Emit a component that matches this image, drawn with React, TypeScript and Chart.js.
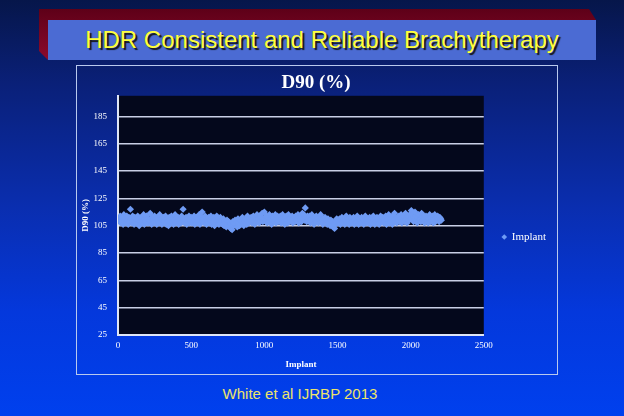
import React, { useEffect, useRef } from "react";
import { Chart, registerables } from "chart.js";

Chart.register(...registerables);

const slideTitle = "HDR Consistent and Reliable Brachytherapy";
const chartTitle = "D90 (%)";
const seriesName = "Implant";
const xAxisTitle = "Implant";
const yAxisTitle = "D90 (%)";
const footnote = "White et al IJRBP 2013";

const yTicks = [25, 45, 65, 85, 105, 125, 145, 165, 185];
const xTicks = [0, 500, 1000, 1500, 2000, 2500];
const yMin = 25;
const yMax = 200;
const xMin = 0;
const xMax = 2500;

// D90 (%), one value every 5th implant
const implantStep = 5;
const d90 = [
  110, 108, 112, 107, 109, 111, 106, 113, 108, 110, 107, 112, 109, 106, 111, 108, 117, 110, 107, 112,
  109, 106, 111, 108, 110, 107, 112, 109, 105, 110, 108, 111, 107, 109, 113, 106, 110, 108, 112, 107,
  110, 107, 109, 114, 108, 106, 111, 109, 107, 112, 108, 110, 106, 111, 109, 107, 113, 108, 110, 106,
  109, 111, 107, 108, 112, 106, 110, 108, 105, 111, 109, 107, 112, 108, 110, 106, 109, 113, 107, 110,
  108, 111, 106, 109, 110, 107, 112, 108, 117, 110, 107, 109, 111, 106, 110, 108, 112, 107, 109, 111,
  107, 110, 108, 112, 106, 109, 111, 107, 110, 108, 113, 106, 109, 111, 115, 108, 110, 107, 112, 109,
  106, 110, 108, 111, 107, 109, 112, 106, 110, 108, 111, 105, 109, 107, 112, 108, 110, 106, 109, 111,
  107, 109, 106, 110, 105, 108, 107, 104, 109, 106, 108, 105, 107, 103, 106, 102, 108, 105, 107, 109,
  106, 108, 104, 110, 107, 105, 109, 106, 108, 111, 107, 105, 109, 108, 110, 106, 112, 108, 107, 110,
  109, 111, 107, 110, 112, 108, 106, 111, 109, 113, 108, 110, 107, 112, 109, 111, 114, 108, 110, 115,
  110, 108, 112, 107, 111, 109, 113, 108, 110, 106, 112, 109, 111, 108, 113, 107, 110, 112, 108, 111,
  109, 112, 107, 110, 113, 108, 111, 106, 110, 112, 109, 107, 113, 110, 108, 111, 109, 112, 107, 110,
  111, 108, 112, 109, 110, 113, 107, 111, 109, 112, 108, 114, 110, 113, 109, 118, 111, 108, 112, 110,
  109, 112, 107, 110, 113, 108, 111, 106, 110, 109, 112, 108, 110, 107, 111, 109, 113, 108, 110, 106,
  110, 108, 111, 107, 109, 106, 110, 108, 107, 105, 109, 106, 108, 104, 107, 103, 106, 108, 110, 107,
  109, 107, 110, 106, 109, 111, 107, 108, 110, 106, 109, 112, 107, 110, 108, 106, 111, 109, 107, 110,
  108, 111, 106, 109, 110, 107, 112, 108, 106, 110, 109, 107, 111, 108, 110, 106, 109, 112, 107, 109,
  110, 107, 109, 111, 106, 108, 110, 107, 112, 109, 106, 110, 108, 111, 107, 109, 106, 110, 112, 108,
  109, 111, 107, 110, 108, 112, 106, 110, 109, 113, 107, 111, 108, 110, 106, 112, 109, 114, 108, 110,
  107, 111, 109, 112, 108, 110, 113, 107, 111, 109, 112, 108, 114, 110, 107, 112, 109, 111, 113, 110,
  116, 110, 113, 108, 111, 115, 109, 112, 107, 111, 113, 109, 110, 108, 114, 111, 109, 112, 107, 110,
  112, 109, 111, 107, 110, 113, 108, 111, 109, 112, 107, 110, 113, 108, 111, 109, 112, 110, 108, 111,
  110, 109,
];

const SERIF = "'Liberation Serif', 'Times New Roman', serif";
const SANS = "'Liberation Sans', Arial, sans-serif";
const POINT_COLOR = "#6f9bf4";

const plotBackground = {
  id: "plotBackground",
  beforeDraw(chart: any) {
    const { ctx, chartArea } = chart;
    if (!chartArea) return;
    ctx.save();
    ctx.fillStyle = "#04081c";
    ctx.fillRect(chartArea.left, chartArea.top, chartArea.right - chartArea.left, chartArea.bottom - chartArea.top);
    ctx.restore();
  },
};

function D90Chart() {
  const canvasRef = useRef<HTMLCanvasElement | null>(null);

  useEffect(() => {
    if (!canvasRef.current) return;
    const points = d90.map((v, i) => ({ x: (i + 1) * implantStep, y: v }));
    const chart = new Chart(canvasRef.current, {
      type: "scatter",
      data: {
        datasets: [
          {
            label: seriesName,
            data: points,
            pointStyle: "rectRot",
            pointRadius: 3.6,
            pointHoverRadius: 3.6,
            backgroundColor: POINT_COLOR,
            borderColor: POINT_COLOR,
            borderWidth: 0,
          },
        ],
      },
      plugins: [plotBackground],
      options: {
        animation: false,
        responsive: true,
        maintainAspectRatio: false,
        events: [],
        layout: { padding: { left: 0, right: 12, top: 0, bottom: 0 } },
        plugins: {
          tooltip: { enabled: false },
          title: {
            display: true,
            text: chartTitle,
            color: "#ffffff",
            font: { family: SERIF, size: 19, weight: "bold" },
            padding: { top: 7, bottom: 1 },
          },
          legend: {
            position: "right",
            align: "center",
            title: {
              display: true,
              text: " ",
              color: "rgba(0,0,0,0)",
              font: { family: SERIF, size: 10 },
              padding: { top: 22, bottom: 0 },
            },
            labels: {
              usePointStyle: true,
              boxWidth: 4,
              boxHeight: 4,
              color: "#ffffff",
              font: { family: SERIF, size: 11 },
              padding: 18.5,
            },
          },
        },
        scales: {
          x: {
            type: "linear",
            min: xMin,
            max: xMax,
            afterBuildTicks: (s: any) => {
              s.ticks = xTicks.map((v) => ({ value: v }));
            },
            afterFit: (s: any) => {
              s.height = 40;
            },
            grid: { display: false, drawTicks: false },
            border: { display: true, color: "#dfe6f6", width: 2 },
            ticks: {
              color: "#ffffff",
              font: { family: SERIF, size: 9 },
              padding: 5,
              maxRotation: 0,
              autoSkip: false,
              callback: (v: any) => String(v),
            },
            title: {
              display: true,
              text: xAxisTitle,
              color: "#ffffff",
              font: { family: SERIF, size: 9, weight: "bold" },
              padding: { top: 0, bottom: 4.6 },
            },
          },
          y: {
            type: "linear",
            min: yMin,
            max: yMax,
            afterBuildTicks: (s: any) => {
              s.ticks = yTicks.map((v) => ({ value: v }));
            },
            afterFit: (s: any) => {
              s.width = 42;
            },
            grid: { color: "#c9cfe6", lineWidth: 1.5, drawTicks: false },
            border: { display: true, color: "#dfe6f6", width: 2 },
            ticks: {
              color: "#ffffff",
              font: { family: SERIF, size: 9 },
              padding: 11,
              autoSkip: false,
              callback: (v: any) => String(v),
            },
            title: {
              display: true,
              text: yAxisTitle,
              color: "#ffffff",
              font: { family: SERIF, size: 9, weight: "bold" },
              padding: { top: 4.6, bottom: 0 },
            },
          },
        },
      } as any,
    });
    return () => chart.destroy();
  }, []);

  return <canvas ref={canvasRef} />;
}

export default function App() {
  return (
    <div
      style={{
        position: "fixed",
        left: 0,
        top: 0,
        width: 624,
        height: 416,
        overflow: "hidden",
        background:
          "linear-gradient(180deg, #06164a 0%, #0a2078 20%, #0a2eb0 50%, #0438dc 75%, #0040ee 100%)",
      }}
    >
      {/* 3D title banner */}
      <div
        style={{
          position: "absolute",
          left: 39,
          top: 9,
          width: 557,
          height: 51,
          background: "linear-gradient(180deg, #5e0018 0%, #8c0a2c 100%)",
          clipPath: "polygon(0px 0px, 550px 0px, 557px 11px, 9px 11px, 9px 51px, 0px 42px)",
        }}
      />
      <div
        style={{
          position: "absolute",
          left: 48,
          top: 20,
          width: 548,
          height: 40,
          background: "#4b6bd3",
          display: "flex",
          alignItems: "center",
          justifyContent: "center",
          fontFamily: SANS,
          fontSize: 24,
          color: "#ffff3a",
          textShadow: "2px 2px 1px #151515",
          whiteSpace: "nowrap",
        }}
      >
        {slideTitle}
      </div>

      {/* chart frame */}
      <div
        style={{
          position: "absolute",
          left: 76,
          top: 65,
          width: 482,
          height: 310,
          boxSizing: "border-box",
          border: "1.5px solid #b9c9ee",
        }}
      />
      <div style={{ position: "absolute", left: 76, top: 65, width: 492, height: 310 }}>
        <D90Chart />
      </div>

      {/* source note */}
      <div
        style={{
          position: "absolute",
          left: 200,
          top: 385,
          width: 200,
          textAlign: "center",
          fontFamily: SANS,
          fontSize: 15,
          lineHeight: "18px",
          color: "#ece46a",
          whiteSpace: "nowrap",
        }}
      >
        {footnote}
      </div>
    </div>
  );
}
